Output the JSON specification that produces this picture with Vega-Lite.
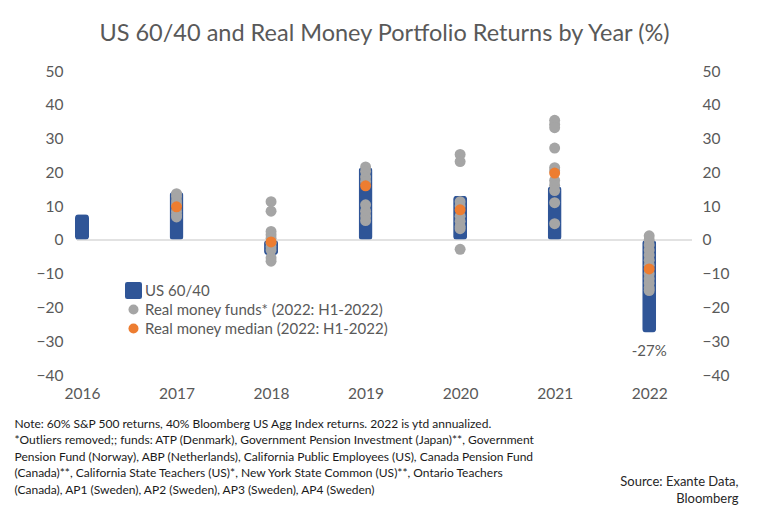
{
  "$schema": "https://vega.github.io/schema/vega-lite/v6.json",
  "width": 615,
  "height": 304,
  "autosize": "none",
  "padding": {"left": 77, "top": 71, "right": 68, "bottom": 136},
  "background": "white",
  "title": {
    "text": "US 60/40 and Real Money Portfolio Returns by Year (%)",
    "font": "Lato",
    "fontSize": 23.5,
    "fontWeight": "normal",
    "color": "#595959",
    "anchor": "middle",
    "frame": "group",
    "offset": 19
  },
  "config": {
    "view": {"stroke": null},
    "font": "Lato"
  },
  "datasets": {
    "bars": [
      {"year": 2016, "value": 7.6, "label": ""},
      {"year": 2017, "value": 14.2, "label": ""},
      {"year": 2018, "value": -4.5, "label": ""},
      {"year": 2019, "value": 21.5, "label": ""},
      {"year": 2020, "value": 13.1, "label": ""},
      {"year": 2021, "value": 15.9, "label": ""},
      {"year": 2022, "value": -27.4, "label": "-27%"}
    ],
    "points": [
      {"year": 2017, "value": 13.7, "series": "Real money funds* (2022: H1-2022)"},
      {"year": 2017, "value": 12.8, "series": "Real money funds* (2022: H1-2022)"},
      {"year": 2017, "value": 11.5, "series": "Real money funds* (2022: H1-2022)"},
      {"year": 2017, "value": 10.5, "series": "Real money funds* (2022: H1-2022)"},
      {"year": 2017, "value": 8.5, "series": "Real money funds* (2022: H1-2022)"},
      {"year": 2017, "value": 7.5, "series": "Real money funds* (2022: H1-2022)"},
      {"year": 2017, "value": 6.8, "series": "Real money funds* (2022: H1-2022)"},
      {"year": 2018, "value": 11.3, "series": "Real money funds* (2022: H1-2022)"},
      {"year": 2018, "value": 8.5, "series": "Real money funds* (2022: H1-2022)"},
      {"year": 2018, "value": 2.5, "series": "Real money funds* (2022: H1-2022)"},
      {"year": 2018, "value": 1.5, "series": "Real money funds* (2022: H1-2022)"},
      {"year": 2018, "value": 0.5, "series": "Real money funds* (2022: H1-2022)"},
      {"year": 2018, "value": -1.0, "series": "Real money funds* (2022: H1-2022)"},
      {"year": 2018, "value": -2.0, "series": "Real money funds* (2022: H1-2022)"},
      {"year": 2018, "value": -3.0, "series": "Real money funds* (2022: H1-2022)"},
      {"year": 2018, "value": -5.3, "series": "Real money funds* (2022: H1-2022)"},
      {"year": 2018, "value": -6.3, "series": "Real money funds* (2022: H1-2022)"},
      {"year": 2019, "value": 21.6, "series": "Real money funds* (2022: H1-2022)"},
      {"year": 2019, "value": 20.3, "series": "Real money funds* (2022: H1-2022)"},
      {"year": 2019, "value": 18.6, "series": "Real money funds* (2022: H1-2022)"},
      {"year": 2019, "value": 17.3, "series": "Real money funds* (2022: H1-2022)"},
      {"year": 2019, "value": 10.4, "series": "Real money funds* (2022: H1-2022)"},
      {"year": 2019, "value": 8.5, "series": "Real money funds* (2022: H1-2022)"},
      {"year": 2019, "value": 7.1, "series": "Real money funds* (2022: H1-2022)"},
      {"year": 2019, "value": 5.7, "series": "Real money funds* (2022: H1-2022)"},
      {"year": 2020, "value": 25.3, "series": "Real money funds* (2022: H1-2022)"},
      {"year": 2020, "value": 23.2, "series": "Real money funds* (2022: H1-2022)"},
      {"year": 2020, "value": 11.3, "series": "Real money funds* (2022: H1-2022)"},
      {"year": 2020, "value": 10.0, "series": "Real money funds* (2022: H1-2022)"},
      {"year": 2020, "value": 7.0, "series": "Real money funds* (2022: H1-2022)"},
      {"year": 2020, "value": 5.5, "series": "Real money funds* (2022: H1-2022)"},
      {"year": 2020, "value": 4.0, "series": "Real money funds* (2022: H1-2022)"},
      {"year": 2020, "value": 3.3, "series": "Real money funds* (2022: H1-2022)"},
      {"year": 2020, "value": -2.8, "series": "Real money funds* (2022: H1-2022)"},
      {"year": 2021, "value": 35.4, "series": "Real money funds* (2022: H1-2022)"},
      {"year": 2021, "value": 34.2, "series": "Real money funds* (2022: H1-2022)"},
      {"year": 2021, "value": 33.2, "series": "Real money funds* (2022: H1-2022)"},
      {"year": 2021, "value": 27.2, "series": "Real money funds* (2022: H1-2022)"},
      {"year": 2021, "value": 21.4, "series": "Real money funds* (2022: H1-2022)"},
      {"year": 2021, "value": 20.5, "series": "Real money funds* (2022: H1-2022)"},
      {"year": 2021, "value": 17.6, "series": "Real money funds* (2022: H1-2022)"},
      {"year": 2021, "value": 16.2, "series": "Real money funds* (2022: H1-2022)"},
      {"year": 2021, "value": 14.6, "series": "Real money funds* (2022: H1-2022)"},
      {"year": 2021, "value": 11.0, "series": "Real money funds* (2022: H1-2022)"},
      {"year": 2021, "value": 4.8, "series": "Real money funds* (2022: H1-2022)"},
      {"year": 2022, "value": 1.2, "series": "Real money funds* (2022: H1-2022)"},
      {"year": 2022, "value": 0.0, "series": "Real money funds* (2022: H1-2022)"},
      {"year": 2022, "value": -1.5, "series": "Real money funds* (2022: H1-2022)"},
      {"year": 2022, "value": -3.0, "series": "Real money funds* (2022: H1-2022)"},
      {"year": 2022, "value": -4.5, "series": "Real money funds* (2022: H1-2022)"},
      {"year": 2022, "value": -6.0, "series": "Real money funds* (2022: H1-2022)"},
      {"year": 2022, "value": -7.5, "series": "Real money funds* (2022: H1-2022)"},
      {"year": 2022, "value": -10.0, "series": "Real money funds* (2022: H1-2022)"},
      {"year": 2022, "value": -11.5, "series": "Real money funds* (2022: H1-2022)"},
      {"year": 2022, "value": -12.8, "series": "Real money funds* (2022: H1-2022)"},
      {"year": 2022, "value": -14.2, "series": "Real money funds* (2022: H1-2022)"},
      {"year": 2022, "value": -15.0, "series": "Real money funds* (2022: H1-2022)"},
      {"year": 2017, "value": 9.8, "series": "Real money median (2022: H1-2022)"},
      {"year": 2018, "value": -0.6, "series": "Real money median (2022: H1-2022)"},
      {"year": 2019, "value": 16.0, "series": "Real money median (2022: H1-2022)"},
      {"year": 2020, "value": 8.9, "series": "Real money median (2022: H1-2022)"},
      {"year": 2021, "value": 19.8, "series": "Real money median (2022: H1-2022)"},
      {"year": 2022, "value": -8.6, "series": "Real money median (2022: H1-2022)"}
    ]
  },
  "resolve": {"scale": {"y": "independent"}},
  "layer": [
    {
      "layer": [
        {
          "data": {"name": "bars"},
          "mark": {"type": "bar", "width": 14, "cornerRadius": 3.5, "color": "#2F5597"},
          "encoding": {
            "x": {
              "field": "year", "type": "quantitative",
              "scale": {"domain": [2016, 2022.4], "nice": false, "zero": false},
              "axis": {
                "values": [2016, 2017, 2018, 2019, 2020, 2021, 2022],
                "format": "d",
                "domain": false, "ticks": false, "grid": false,
                "labelFont": "Lato", "labelFontSize": 15.5, "labelColor": "#595959",
                "labelPadding": 11,
                "title": [
                  "Note: 60% S&P 500  returns, 40% Bloomberg US Agg Index returns. 2022 is ytd annualized.",
                  "*Outliers removed;; funds: ATP (Denmark), Government Pension Investment (Japan)**, Government",
                  "Pension Fund (Norway), ABP  (Netherlands), California Public Employees (US), Canada Pension Fund",
                  "(Canada)**, California State Teachers (US)*, New York State Common (US)**, Ontario Teachers",
                  "(Canada), AP1 (Sweden), AP2 (Sweden), AP3 (Sweden), AP4 (Sweden)"
                ],
                "titleFont": "Lato", "titleFontSize": 12, "titleFontWeight": "normal", "titleColor": "#1a1a1a",
                "titleAlign": "left", "titleBaseline": "top",
                "titleX": -63, "titleY": 43, "titleLineHeight": 16.5
              }
            },
            "y": {
              "field": "value", "type": "quantitative",
              "scale": {"domain": [-40, 50], "nice": false},
              "axis": {
                "values": [-40, -30, -20, -10, 0, 10, 20, 30, 40, 50],
                "domain": false, "ticks": false, "grid": false,
                "labelFont": "Lato", "labelFontSize": 15.5, "labelColor": "#595959",
                "labelPadding": 14, "title": null
              }
            }
          }
        },
        {
          "data": {"values": [{"zero": 0}]},
          "mark": {"type": "rule", "color": "#D9D9D9", "strokeWidth": 1.5},
          "encoding": {
            "y": {
              "field": "zero", "type": "quantitative",
              "axis": {
                "values": [-40, -30, -20, -10, 0, 10, 20, 30, 40, 50],
                "domain": false, "ticks": false, "grid": false,
                "labelFont": "Lato", "labelFontSize": 15.5, "labelColor": "#595959",
                "labelPadding": 14, "title": null
              }
            }
          }
        },
        {
          "data": {"name": "bars"},
          "transform": [{"filter": "datum.label != ''"}],
          "mark": {"type": "text", "baseline": "top", "dy": 12, "font": "Lato", "fontSize": 15, "color": "#595959"},
          "encoding": {
            "x": {
              "field": "year", "type": "quantitative",
              "axis": {
                "values": [2016, 2017, 2018, 2019, 2020, 2021, 2022],
                "format": "d",
                "domain": false, "ticks": false, "grid": false,
                "labelFont": "Lato", "labelFontSize": 15.5, "labelColor": "#595959",
                "labelPadding": 11
              }
            },
            "y": {
              "field": "value", "type": "quantitative",
              "axis": {
                "values": [-40, -30, -20, -10, 0, 10, 20, 30, 40, 50],
                "domain": false, "ticks": false, "grid": false,
                "labelFont": "Lato", "labelFontSize": 15.5, "labelColor": "#595959",
                "labelPadding": 14, "title": null
              }
            },
            "text": {"field": "label"}
          }
        }
      ]
    },
    {
      "data": {"name": "points"},
      "mark": {"type": "point", "filled": true, "opacity": 1, "size": 120, "strokeWidth": 0},
      "encoding": {
        "x": {
          "field": "year", "type": "quantitative",
          "axis": {
            "values": [2016, 2017, 2018, 2019, 2020, 2021, 2022],
            "format": "d",
            "domain": false, "ticks": false, "grid": false,
            "labelFont": "Lato", "labelFontSize": 15.5, "labelColor": "#595959",
            "labelPadding": 11
          }
        },
        "y": {
          "field": "value", "type": "quantitative",
          "scale": {"domain": [-40, 50], "nice": false},
          "axis": {
            "orient": "right",
            "values": [-40, -30, -20, -10, 0, 10, 20, 30, 40, 50],
            "domain": false, "ticks": false, "grid": false,
            "labelFont": "Lato", "labelFontSize": 15.5, "labelColor": "#595959",
            "labelPadding": 10,
            "title": ["Source: Exante Data,", "Bloomberg"],
            "titleAngle": 0, "titleAlign": "right", "titleBaseline": "top",
            "titleFont": "Lato", "titleFontSize": 13, "titleFontWeight": "normal", "titleColor": "#262626",
            "titleX": 46, "titleY": 404, "titleLineHeight": 17
          }
        },
        "color": {
          "field": "series", "type": "nominal",
          "scale": {
            "domain": ["US 60/40", "Real money funds* (2022: H1-2022)", "Real money median (2022: H1-2022)"],
            "range": ["#2F5597", "#A5A5A5", "#ED7D31"]
          },
          "legend": {
            "title": null, "orient": "none", "legendX": 49, "legendY": 212,
            "labelFont": "Lato", "labelFontSize": 15, "labelColor": "#595959",
            "labelLimit": 400, "labelOffset": 4, "rowPadding": 3, "padding": 0
          }
        },
        "shape": {
          "field": "series", "type": "nominal",
          "scale": {
            "domain": ["US 60/40", "Real money funds* (2022: H1-2022)", "Real money median (2022: H1-2022)"],
            "range": ["M-1.7,-1.25Q-1.7,-1.7,-1.25,-1.7H1.25Q1.7,-1.7,1.7,-1.25V1.25Q1.7,1.7,1.25,1.7H-1.25Q-1.7,1.7,-1.7,1.25Z", "circle", "circle"]
          },
          "legend": {
            "title": null, "orient": "none", "legendX": 49, "legendY": 212,
            "labelFont": "Lato", "labelFontSize": 15, "labelColor": "#595959",
            "labelLimit": 400, "labelOffset": 4, "rowPadding": 3, "padding": 0
          }
        }
      }
    }
  ]
}
